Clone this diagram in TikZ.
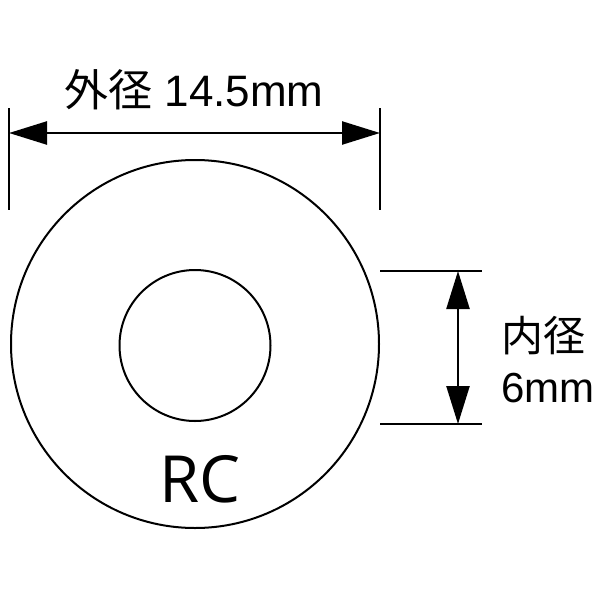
\documentclass[tikz,border=0pt]{standalone}
\usepackage{fontspec}
\setmainfont{Liberation Sans}
\newfontfamily\cjk{Noto Sans CJK JP}
\newfontfamily\rcfont{Open Sans}
\usetikzlibrary{arrows.meta}
\begin{document}
\begin{tikzpicture}[x=1pt,y=-1pt,
  ring/.style={circle,draw,line width=2pt,inner sep=0pt},
  ext/.style={line width=2pt},
  dim/.style={line width=2.4pt,{Triangle[length=38pt,width=23pt]}-{Triangle[length=38pt,width=23pt]}},
  lbl/.style={font=\fontsize{42}{46}\selectfont,inner sep=0pt}]
\useasboundingbox (0,0) rectangle (600,600);
\node[ring,minimum size=368pt] (outer) at (195,344) {};
\node[ring,minimum size=151pt] (inner) at (195,345.5) {};
% outer diameter extension lines
\coordinate (l1) at (9,108); \coordinate (l2) at (9,210);
\coordinate (r1) at (380,108); \coordinate (r2) at (380,210);
\draw[ext] (l1) -- (l2);
\draw[ext] (r1) -- (r2);
\coordinate (la) at (9,133); \coordinate (ra) at (380,133);
\draw[dim] (la) -- (ra);
\node[lbl,font=\fontsize{44}{48}\selectfont,anchor=base] (od) at (194,106) {{\cjk 外径} 14.5mm};
% inner diameter extension lines
\coordinate (t1) at (380,271); \coordinate (t2) at (482,271);
\coordinate (b1) at (380,424); \coordinate (b2) at (482,424);
\draw[ext] (t1) -- (t2);
\draw[ext] (b1) -- (b2);
\coordinate (ta) at (458,271); \coordinate (ba) at (458,424);
\draw[dim] (ta) -- (ba);
\node[lbl,anchor=base west] (id1) at (501,351) {\cjk 内径};
\node[lbl,anchor=base west] (id2) at (501,402) {6mm};
\node[font=\rcfont\fontsize{65}{70}\selectfont,inner sep=0pt,anchor=base] (rc) at (200,502) {RC};
\end{tikzpicture}
\end{document}
